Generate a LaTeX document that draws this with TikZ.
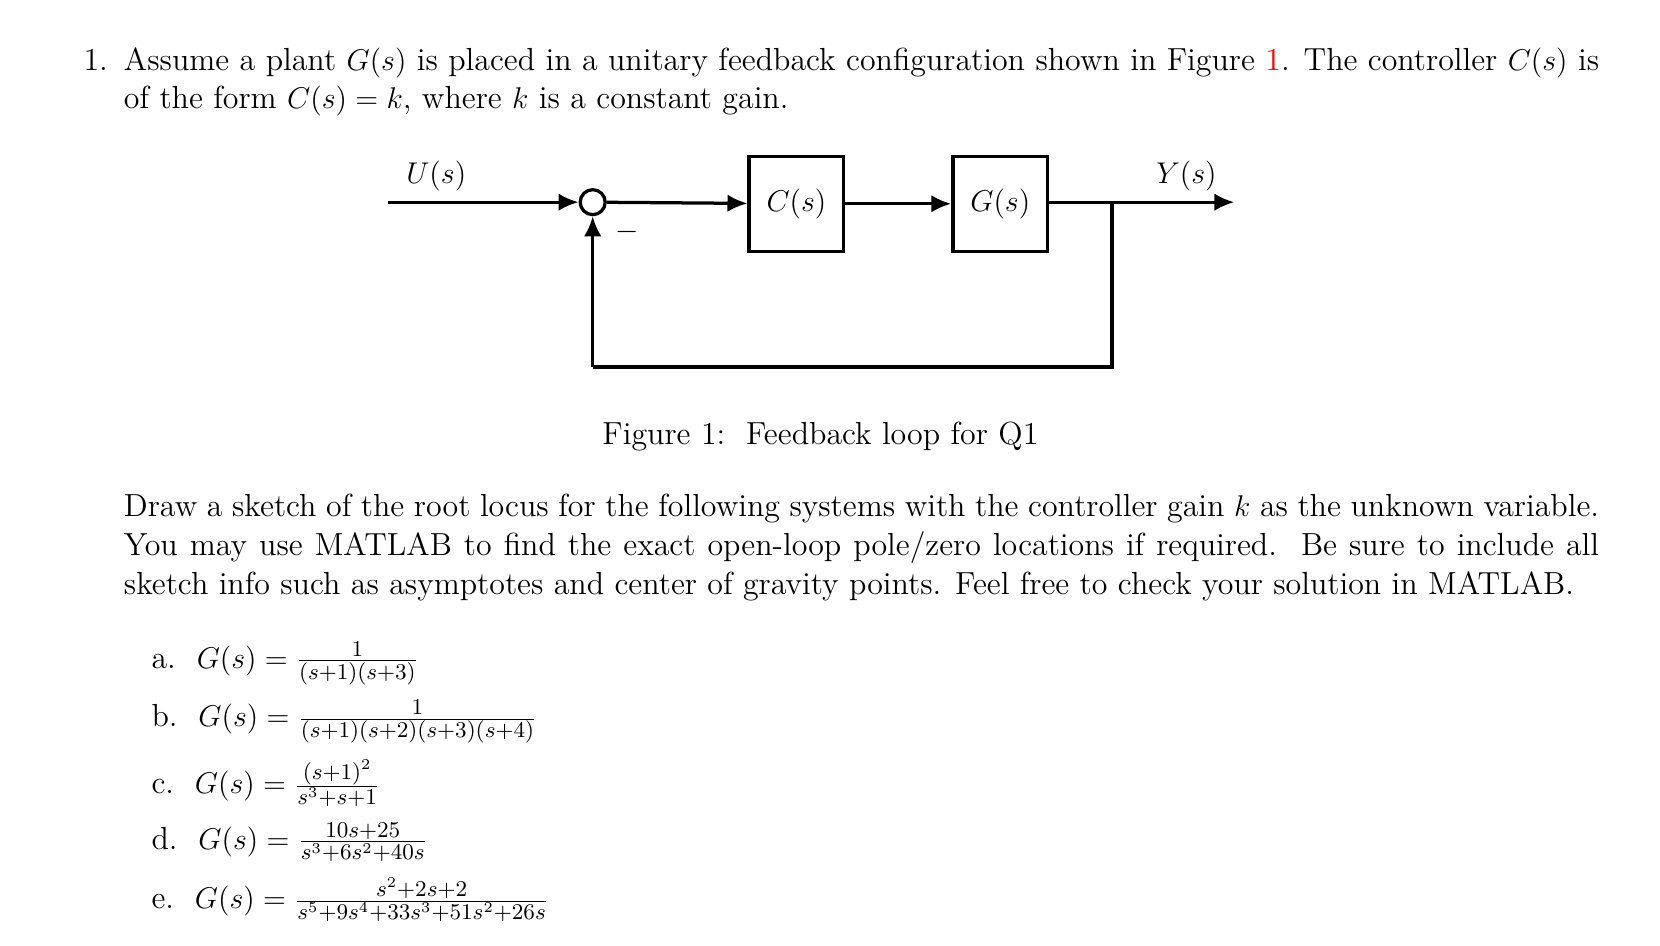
\documentclass[tikz,border=0pt]{standalone}
\usetikzlibrary{arrows.meta}
\begin{document}
\begin{tikzpicture}[x=0.4256pt,y=-0.4256pt,
  txt/.style={anchor=base west,inner sep=0pt,font=\fontsize{12.77}{15.4}\selectfont},
  blk/.style={draw,line width=1.3pt,minimum width=37.9pt,minimum height=37.9pt,inner sep=0pt,font=\fontsize{12.77}{15.4}\selectfont},
  sig/.style={line width=1.3pt,-{Latex[length=8pt,width=7pt]}},
  wire/.style={line width=1.3pt}]
\useasboundingbox (0,0) rectangle (1560,889);
\node[txt] (n1) at (78,66) {1.};
\node[txt] (l1) at (116,66) {\makebox[590pt][s]{Assume a plant $G(s)$ is placed in a unitary feedback configuration shown in Figure \textcolor{red}{1}. The controller $C(s)$ is}};
\node[txt] (l2) at (116,102) {of the form $C(s)=k$, where $k$ is a constant gain.};
% diagram
\coordinate (in) at (365,190);
\node[draw,circle,line width=1.3pt,minimum size=10pt,inner sep=0pt] (sum) at (557,190) {};
\node[blk] (C) at (748.5,191.5) {$C(s)$};
\node[blk] (G) at (940,191.5) {$G(s)$};
\coordinate (br) at (1045,190);
\coordinate (out) at (1160,190);
\coordinate (d1) at (1045,345);
\coordinate (d2) at (557,345);
\node[txt,anchor=base] (U) at (410,172) {$U(s)$};
\node[txt,anchor=base] (Y) at (1115,172) {$Y(s)$};
\node[txt,anchor=base] (m) at (589,225) {$-$};
\draw[sig] (in) -- (sum);
\draw[sig] (sum) -- (C);
\draw[sig] (C) -- (G);
\draw[sig] (G.east |- br) -- (out);
\draw[wire] (br) -- (d1) -- (d2);
\draw[sig] (d2) -- (sum);
\node[txt,anchor=base] (cap) at (771,418) {Figure 1:\ \ Feedback loop for Q1};
\node[txt] (p1) at (116,485) {\makebox[590pt][s]{Draw a sketch of the root locus for the following systems with the controller gain $k$ as the unknown variable.}};
\node[txt] (p2) at (116,522) {\makebox[590pt][s]{You may use MATLAB to find the exact open-loop pole/zero locations if required.\ \ Be sure to include all}};
\node[txt] (p3) at (116,559) {sketch info such as asymptotes and center of gravity points. Feel free to check your solution in MATLAB.};
\node[txt] (a) at (142,628) {a.\ \ $G(s)=\frac{1}{(s+1)(s+3)}$};
\node[txt] (b) at (142,683) {b.\ \ $G(s)=\frac{1}{(s+1)(s+2)(s+3)(s+4)}$};
\node[txt] (c) at (142,746) {c.\ \ $G(s)=\frac{(s+1)^2}{s^3+s+1}$};
\node[txt] (d) at (142,798) {d.\ \ $G(s)=\frac{10s+25}{s^3+6s^2+40s}$};
\node[txt] (e) at (142,854) {e.\ \ $G(s)=\frac{s^2+2s+2}{s^5+9s^4+33s^3+51s^2+26s}$};
\end{tikzpicture}
\end{document}
